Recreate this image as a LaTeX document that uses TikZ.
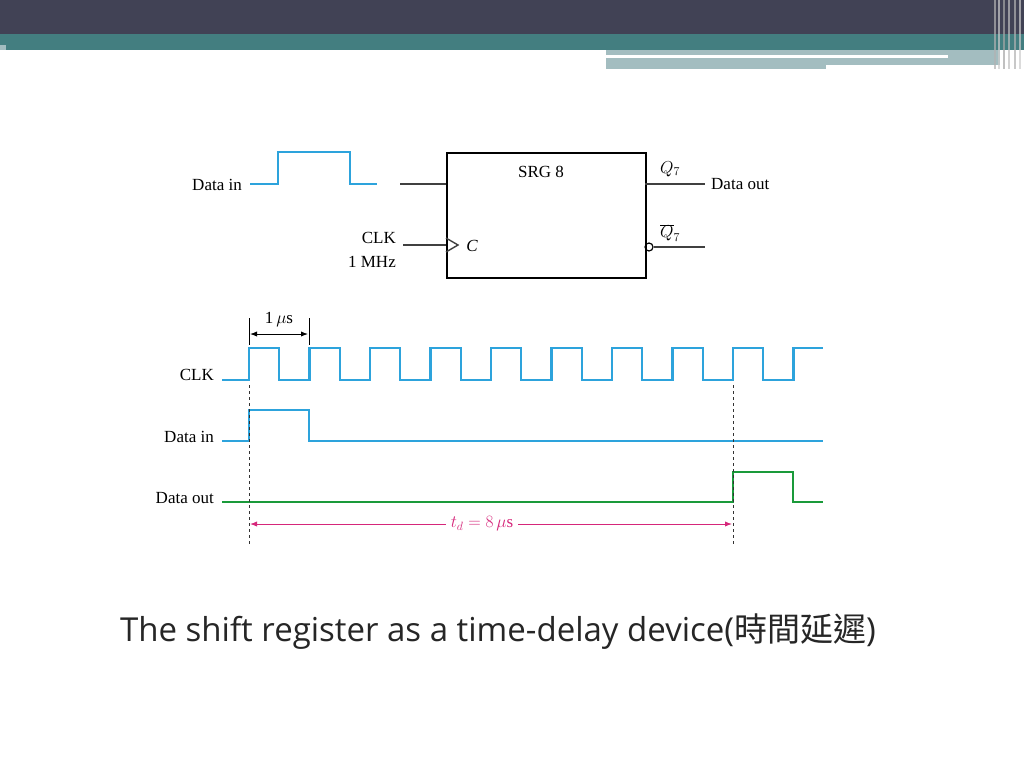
\documentclass[tikz,border=0pt]{standalone}
\usepackage{fontspec}
\setmainfont{Liberation Serif}
\newfontfamily\capfont{Open Sans}
\newfontfamily\cjk{Noto Sans CJK TC}
\usetikzlibrary{arrows.meta}
\definecolor{dark}{HTML}{414255}
\definecolor{teal}{HTML}{437E80}
\definecolor{pale}{HTML}{A3BDC0}
\definecolor{wblue}{HTML}{2DA3DC}
\definecolor{wgreen}{HTML}{1A9A3A}
\definecolor{mag}{HTML}{D6267A}
\begin{document}
\begin{tikzpicture}[x=1pt,y=-1pt,
  lbl/.style={font=\fontsize{17}{19}\selectfont,inner sep=0pt},
  wire/.style={line width=1.4pt,black!75},
  wave/.style={line width=2.2pt,wblue},
  vdash/.style={dashed,line width=0.8pt,black!80}]
\useasboundingbox (0,0) rectangle (1024,768);
\fill[white] (0,0) rectangle (1024,768);
% header
\fill[dark] (0,0) rectangle (1024,34);
\fill[teal] (0,34) rectangle (1024,50);
\fill[pale] (0,45) rectangle (6,50);
\fill[pale] (606,50) rectangle (1000,69);
\fill[white] (606,55) rectangle (948,58);
\fill[white] (826,65) rectangle (1000,69);
\foreach \x/\c in {994/gray!60,998/gray!40,1003/gray!70,1008/gray!50,1014/gray!60,1019/gray!40}
  \fill[\c,opacity=.7] (\x,0) rectangle (\x+2,69);
% block
\node[draw,line width=1.6pt,minimum width=199pt,minimum height=125pt,anchor=north west,inner sep=0] (srg) at (446,152) {};
\node[lbl] (t) at (541,172) {SRG 8};
\node[lbl] (c) at (472,246) {\itshape C};
\node[lbl] (q) at (670,169) {$Q_7$};
\node[lbl] (qb) at (670,233) {$\overline{Q}_7$};
\coordinate (din) at (400,184);
\coordinate (clkin) at (403,245);
\coordinate (qo) at (705,184);
\coordinate (qbo) at (705,247);
\draw[wire] (din) -- (din -| srg.west);
\draw[wire] (clkin) -- (clkin -| srg.west);
\draw[wire] (446,238) -- (458,245) -- (446,252);
\draw[wire] (645,184) -- (qo);
\node[draw,circle,line width=1.2pt,inner sep=0,minimum size=8pt] (bub) at (649,247) {};
\draw[wire] (bub.east) -- (qbo);
\node[lbl,anchor=west] (dout) at (711,184) {Data out};
\node[lbl,anchor=east] (dinl) at (242,185) {Data in};
\node[lbl,anchor=east] (clkl) at (396,238) {CLK};
\node[lbl,anchor=east] (mhz) at (396,262) {1 MHz};
\draw[wave] (250,184) -- (278,184) -- (278,152) -- (350,152) -- (350,184) -- (377,184);
% timing
\node[lbl,anchor=east] (lc) at (214,375) {CLK};
\node[lbl,anchor=east] (ld) at (214,437) {Data in};
\node[lbl,anchor=east] (lo) at (214,498) {Data out};
\draw[wave] (222,380) -- (249,380)
  \foreach \i in {0,...,8} { -- ({249+60.5*\i},348) -- ({279.25+60.5*\i},348) -- ({279.25+60.5*\i},380) -- ({309.5+60.5*\i},380) }
  -- (793.5,348) -- (823,348);
\draw[wave] (222,441) -- (249,441) -- (249,410) -- (309,410) -- (309,441) -- (823,441);
\draw[line width=2.2pt,wgreen] (222,502) -- (733,502) -- (733,472) -- (793,472) -- (793,502) -- (823,502);
\draw[vdash] (249,385) -- (249,545);
\draw[vdash] (733,385) -- (733,545);
\draw[line width=1pt] (249,318) -- (249,345);
\draw[line width=1pt] (309,318) -- (309,345);
\draw[{Latex[length=7pt]}-{Latex[length=7pt]},line width=1pt] (250,334) -- (308,334);
\node[lbl] (us) at (279,320) {1\,$\mu$s};
\node[lbl,text=mag,fill=white,inner xsep=5pt] (td) at (482,524) {$t_d = 8\,\mu$s};
\draw[mag,line width=1pt,{Latex[length=7pt]}-] (250,524) -- (td.west);
\draw[mag,line width=1pt,-{Latex[length=7pt]}] (td.east) -- (732,524);
% caption
\node[font=\capfont\fontsize{33}{38}\selectfont,text=black!85,inner sep=0] (cap) at (498,632) {The shift register as a time-delay device({\cjk 時間延遲})};
\end{tikzpicture}
\end{document}
